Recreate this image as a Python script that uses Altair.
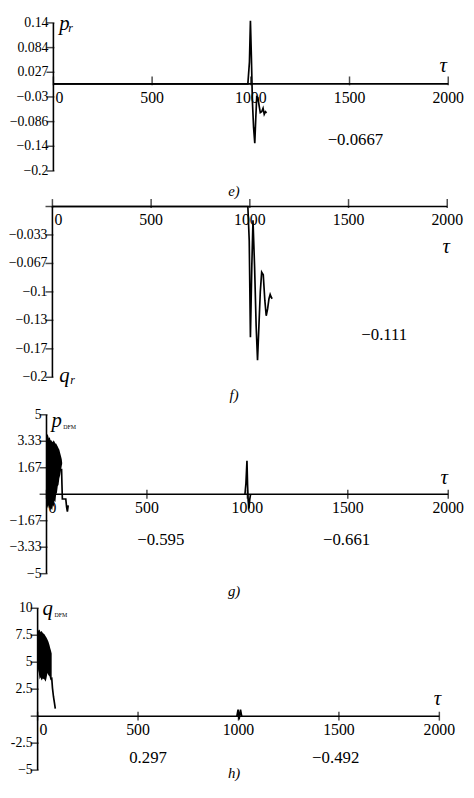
import altair as alt
import pandas as pd

FONT = "Liberation Serif"
W = 464

# ---------------- data ----------------
x_ticks = [0, 500, 1000, 1500, 2000]
x_tick_text = ["0", "500", "1000", "1500", "2000"]

# e) p_r
e_tau = [0, 985, 993, 998, 1003, 1008, 1014, 1020, 1025, 1030, 1036, 1042, 1048, 1055, 1062, 1068, 1074, 1080]
e_val = [0, 0, 0.05, 0.145, 0.06, -0.04, -0.10, -0.136, -0.08, -0.03, -0.032, -0.05, -0.066, -0.064, -0.056, -0.07, -0.064, -0.0667]
e_y_ticks = [0.14, 0.0833, 0.0267, -0.03, -0.0867, -0.1433, -0.2]
e_y_text = ["0.14", "0.084", "0.027", "\u22120.03", "\u22120.086", "\u22120.14", "\u22120.2"]
e_notes = ["\u22120.0667"]

# f) q_r
f_tau = [0, 990, 997, 1003, 1010, 1016, 1024, 1032, 1039, 1046, 1053, 1060, 1068, 1076, 1083, 1090, 1097, 1103, 1108, 1113]
f_val = [0, 0, -0.04, -0.153, -0.07, -0.016, -0.07, -0.14, -0.18, -0.14, -0.10, -0.077, -0.08, -0.11, -0.128, -0.12, -0.108, -0.103, -0.106, -0.108]
f_y_ticks = [0, -0.0333, -0.0667, -0.1, -0.1333, -0.1667, -0.2]
f_y_text = ["", "\u22120.033", "\u22120.067", "\u22120.1", "\u22120.13", "\u22120.17", "\u22120.2"]
f_notes = ["\u22120.111"]

# g) p_DFM
g_env_tau = [0, 4, 8, 12, 16, 20, 24, 28, 32, 36, 40, 44, 48, 52, 56, 60, 64, 68, 72, 76, 78]
g_env_hi = [3.5, 3.8, 3.7, 3.5, 3.6, 3.4, 3.4, 3.3, 3.3, 3.4, 3.3, 3.2, 3.2, 3.1, 3.0, 2.9, 2.8, 2.6, 2.4, 2.2, 2.0]
g_env_lo = [-0.6, -0.9, -0.7, -0.9, -0.8, -1.0, -0.9, -1.0, -0.7, -0.8, -0.4, -0.5, 0.0, 0.1, 0.5, 0.6, 1.0, 1.2, 1.5, 1.8, 1.9]
g_tail_tau = [75, 77, 79, 88, 96, 100, 104, 108]
g_tail_val = [1.6, 0.6, -0.3, -0.3, -0.3, -0.8, -1.1, -0.7]
g_spike_tau = [988, 993, 998, 1001, 1004, 1008, 1012, 1016]
g_spike_val = [0, 0.7, 2.1, 0.6, -0.4, -0.9, -0.3, 0]
g_y_ticks = [5, 3.333, 1.667, 0, -1.667, -3.333, -5]
g_y_text = ["5", "3.33", "1.67", "", "\u22121.67", "\u22123.33", "\u22125"]
g_notes = ["\u22120.595", "\u22120.661"]

# h) q_DFM
h_env_tau = [0, 3, 6, 10, 14, 20, 26, 34, 40, 44, 49, 54, 59, 63, 66, 70]
h_env_hi = [8.3, 7.9, 8.0, 8.0, 7.8, 7.9, 7.7, 7.6, 7.4, 7.3, 7.1, 6.9, 6.6, 6.3, 6.1, 5.8]
h_env_lo = [4.7, 4.2, 4.0, 3.4, 3.6, 3.3, 3.5, 3.4, 3.2, 3.5, 4.0, 3.8, 3.7, 3.4, 3.3, 3.6]
h_tail_tau = [70, 74, 79, 84, 88]
h_tail_val = [3.6, 2.6, 1.8, 1.2, 0.7]
h_spike_tau = [992, 998, 1003, 1010, 1016]
h_spike_val = [0, 0.6, -0.3, 0.6, 0]
h_y_ticks = [10, 7.5, 5, 2.5, 0, -2.5, -5]
h_y_text = ["10", "7.5", "5", "2.5", "", "-2.5", "\u22125"]
h_notes = ["0.297", "\u22120.492"]

# ---------------- layout (pixels inside each panel, annotation anchors in data units) ----------------
PANELS = [
    dict(H=187, x_px=(46, 446), y_px=(7, 157), tick_dy=-3,
         segs=[(e_tau, e_val)], env=None, y_ticks=e_y_ticks, y_text=e_y_text,
         notes=e_notes, note_at=[(1530, -0.128)], tau_at=(1975, 0.041),
         var="p", sub="r", anchor="top", var_dx=6, var_dy=7, sub_dx=15, sub_dy=9, sub_size=12,
         caption="e)"),
    dict(H=207, x_px=(45, 445), y_px=(6, 179), tick_dy=-3,
         segs=[(f_tau, f_val)], env=None, y_ticks=f_y_ticks, y_text=f_y_text,
         notes=f_notes, note_at=[(1681, -0.151)], tau_at=(1995, -0.047),
         var="q", sub="r", anchor="bottom", var_dx=7, var_dy=5, sub_dx=18, sub_dy=7, sub_size=12,
         caption="f)"),
    dict(H=199, x_px=(39, 446), y_px=(10, 171), tick_dy=0,
         segs=[(g_tail_tau, g_tail_val), (g_spike_tau, g_spike_val)],
         env=(g_env_tau, g_env_hi, g_env_lo), y_ticks=g_y_ticks, y_text=g_y_text,
         notes=g_notes, note_at=[(569, -2.9), (1494, -2.9)], tau_at=(1980, 1.0),
         var="p", sub="DFM", anchor="top", var_dx=5, var_dy=12, sub_dx=17, sub_dy=14, sub_size=6,
         caption="g)"),
    dict(H=184, x_px=(30, 437), y_px=(7, 171), tick_dy=0,
         segs=[(h_tail_tau, h_tail_val), (h_spike_tau, h_spike_val)],
         env=(h_env_tau, h_env_hi, h_env_lo), y_ticks=h_y_ticks, y_text=h_y_text,
         notes=h_notes, note_at=[(550, -3.85), (1484, -3.85)], tau_at=(1990, 1.6),
         var="q", sub="DFM", anchor="top", var_dx=5, var_dy=7, sub_dx=17, sub_dy=9, sub_size=6,
         caption="h)"),
]


def build(p):
    H = p["H"]
    x0p, x1p = p["x_px"]
    sx = (x1p - x0p) / (x_ticks[-1] - x_ticks[0])
    xdom = [x_ticks[0] - x0p / sx, x_ticks[0] + (W - x0p) / sx]
    yt = p["y_ticks"]
    ytop, ybot = p["y_px"]
    sy = (ybot - ytop) / (max(yt) - min(yt))
    ydom = [min(yt) - (H - ybot) / sy, max(yt) + ytop / sy]
    xs = alt.Scale(domain=xdom, nice=False, zero=False)
    ys = alt.Scale(domain=ydom, nice=False, zero=False)

    def X(f):
        return alt.X(f, type="quantitative", scale=xs, axis=None)

    def Y(f):
        return alt.Y(f, type="quantitative", scale=ys, axis=None)

    layers = []
    if p["env"] is not None:
        et, eh, el = p["env"]
        d = pd.DataFrame({"tau": et, "hi": eh, "lo": el})
        layers.append(alt.Chart(d).mark_area(color="black", opacity=1).encode(
            x=X("tau"), y=Y("hi"), y2="lo"))

    rows = []
    for k, (t, v) in enumerate(p["segs"]):
        for i, (a, b) in enumerate(zip(t, v)):
            rows.append({"tau": a, "val": b, "seg": k, "i": i})
    d = pd.DataFrame(rows)
    layers.append(alt.Chart(d).mark_line(color="black", strokeWidth=1.7).encode(
        x=X("tau"), y=Y("val"), detail="seg:N", order="i:Q"))

    # axis lines
    ax = pd.DataFrame({"a": [x_ticks[0]], "b": [x_ticks[-1]], "z": [0]})
    layers.append(alt.Chart(ax).mark_rule(color="black", strokeWidth=1.6).encode(
        x=X("a"), x2="b", y=Y("z")))
    ay = pd.DataFrame({"z": [0], "a": [min(yt)], "b": [max(yt)]})
    layers.append(alt.Chart(ay).mark_rule(color="black", strokeWidth=1.6).encode(
        x=X("z"), y=Y("a"), y2="b"))

    # ticks
    xt = pd.DataFrame({"tau": x_ticks, "z": [0] * len(x_ticks), "lab": x_tick_text})
    layers.append(alt.Chart(xt).mark_tick(orient="vertical", size=9, thickness=1.5, color="black",
                                          yOffset=p["tick_dy"]).encode(x=X("tau"), y=Y("z")))
    ytd = pd.DataFrame({"z": [0] * len(yt), "v": yt, "lab": p["y_text"]})
    layers.append(alt.Chart(ytd).mark_tick(orient="horizontal", size=8, thickness=1.5, color="black",
                                           xOffset=-3).encode(x=X("z"), y=Y("v")))

    # tick labels
    layers.append(alt.Chart(xt.iloc[1:]).mark_text(font=FONT, fontSize=16, color="black", dy=14,
                                                   baseline="middle").encode(
        x=X("tau"), y=Y("z"), text="lab:N"))
    layers.append(alt.Chart(xt.iloc[:1]).mark_text(font=FONT, fontSize=16, color="black", dy=14, dx=6,
                                                   baseline="middle").encode(
        x=X("tau"), y=Y("z"), text="lab:N"))
    layers.append(alt.Chart(ytd).mark_text(font=FONT, fontSize=14, color="black", dx=-5, align="right",
                                           baseline="middle").encode(
        x=X("z"), y=Y("v"), text="lab:N"))

    # tau label
    td = pd.DataFrame({"a": [p["tau_at"][0]], "b": [p["tau_at"][1]], "t": ["\u03c4"]})
    layers.append(alt.Chart(td).mark_text(font=FONT, fontSize=21, fontStyle="italic", color="black",
                                          baseline="middle").encode(x=X("a"), y=Y("b"), text="t:N"))

    # variable name with subscript
    yv = max(yt) if p["anchor"] == "top" else min(yt)
    vd = pd.DataFrame({"a": [0], "b": [yv], "t": [p["var"]], "s": [p["sub"]]})
    layers.append(alt.Chart(vd).mark_text(font=FONT, fontSize=21, fontStyle="italic", color="black",
                                          dx=p["var_dx"], dy=p["var_dy"], align="left",
                                          baseline="alphabetic").encode(
        x=X("a"), y=Y("b"), text="t:N"))
    layers.append(alt.Chart(vd).mark_text(font=FONT, fontSize=p["sub_size"],
                                          fontStyle="italic" if p["sub_size"] > 8 else "normal",
                                          color="black", dx=p["sub_dx"], dy=p["sub_dy"],
                                          align="left", baseline="alphabetic").encode(
        x=X("a"), y=Y("b"), text="s:N"))

    # value notes
    nd = pd.DataFrame({"a": [q[0] for q in p["note_at"]], "b": [q[1] for q in p["note_at"]],
                       "t": p["notes"]})
    layers.append(alt.Chart(nd).mark_text(font=FONT, fontSize=17, color="black",
                                          baseline="middle").encode(x=X("a"), y=Y("b"), text="t:N"))

    # caption
    cd = pd.DataFrame({"t": [p["caption"]]})
    layers.append(alt.Chart(cd).mark_text(font=FONT, fontSize=15, fontStyle="italic", color="black",
                                          baseline="alphabetic").encode(
        x=alt.value(229), y=alt.value(H - 5), text="t:N"))

    return alt.layer(*layers).properties(width=W, height=H)


chart = alt.vconcat(*[build(p) for p in PANELS], spacing=0, bounds="flush").properties(
    padding=0).configure_view(stroke=None)

chart.save("out.html", embed_options={"renderer": "svg", "actions": False})
